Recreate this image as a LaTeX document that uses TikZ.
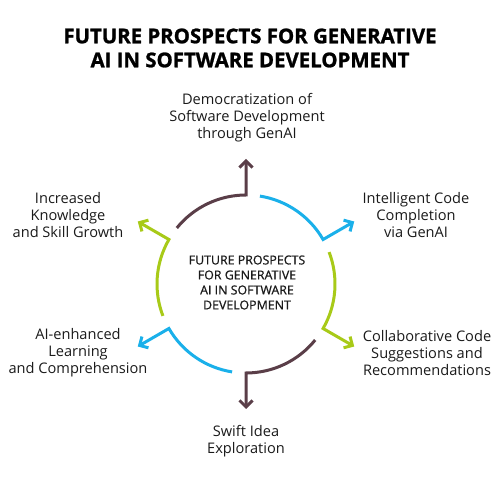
\documentclass[tikz,border=0pt]{standalone}
\usepackage{fontspec}
\setmainfont{Open Sans}
\newfontfamily\titlefont{Open Sans}[UprightFont=* Bold, FakeBold=1.2]
\newfontfamily\semifont{Open Sans}[FakeBold=0.8]
\usetikzlibrary{arrows.meta,calc}
\definecolor{segdark}{HTML}{5A3E48}
\definecolor{segblue}{HTML}{1AB0EA}
\definecolor{seggreen}{HTML}{A8CA18}
\definecolor{txt}{HTML}{1A1A1A}
\begin{document}
\begin{tikzpicture}[x=1pt,y=1pt,
  seg/.style={line width=3pt,-{Straight Barb[length=6.5pt,width=13pt,line width=3pt]}},
  lbl/.style={align=center,font=\fontsize{14.6}{17}\selectfont,text=txt,inner sep=0pt},
  ttl/.style={align=center,font=\titlefont\fontsize{20.4}{24}\selectfont,text=black,inner sep=0pt},
  ctr/.style={align=center,font=\semifont\fontsize{12.4}{15}\selectfont,text=txt,inner sep=0pt}]
\useasboundingbox (0,0) rectangle (500,500);
\coordinate (C) at (246,216);
\def\R{89}
\def\L{36}
% title
\node[ttl] (title) at (250,452) {FUTURE PROSPECTS FOR GENERATIVE\\AI IN SOFTWARE DEVELOPMENT};
% centre
\node[ctr] (core) at (247,217.5) {FUTURE PROSPECTS\\FOR GENERATIVE\\AI IN SOFTWARE\\DEVELOPMENT};
% arc end points and arrow tips
\foreach \n/\a in {a/90,b/30,c/-30,d/-90,e/-150,f/150}{
  \coordinate (\n0) at ($(C)+(\a:\R)$);
  \coordinate (\n1) at ($(C)+(\a:\R+\L)$);
}
\draw[seg,segdark]  ($(C)+(141:\R)$) arc[start angle=141,end angle=90,radius=\R] -- (a1);
\draw[seg,segblue]  ($(C)+(81:\R)$)  arc[start angle=81,end angle=30,radius=\R] -- (b1);
\draw[seg,seggreen] ($(C)+(21:\R)$)  arc[start angle=21,end angle=-30,radius=\R] -- (c1);
\draw[seg,segdark]  ($(C)+(-39:\R)$) arc[start angle=-39,end angle=-90,radius=\R] -- (d1);
\draw[seg,segblue]  ($(C)+(-99:\R)$) arc[start angle=-99,end angle=-150,radius=\R] -- (e1);
\draw[seg,seggreen] ($(C)+(-159:\R)$) arc[start angle=-159,end angle=-210,radius=\R] -- (f1);
% labels
\node[lbl] (la) at (247,382) {Democratization of\\Software Development\\through GenAI};
\node[lbl] (lb) at (416,285) {Intelligent Code\\Completion\\via GenAI};
\node[lbl] (lc) at (427,147) {Collaborative Code\\Suggestions and\\Recommendations};
\node[lbl] (ld) at (246,59) {Swift Idea\\Exploration};
\node[lbl] (le) at (78,147) {AI-enhanced\\Learning\\and Comprehension};
\node[lbl] (lf) at (68,285) {Increased\\Knowledge\\and Skill Growth};
\end{tikzpicture}
\end{document}
